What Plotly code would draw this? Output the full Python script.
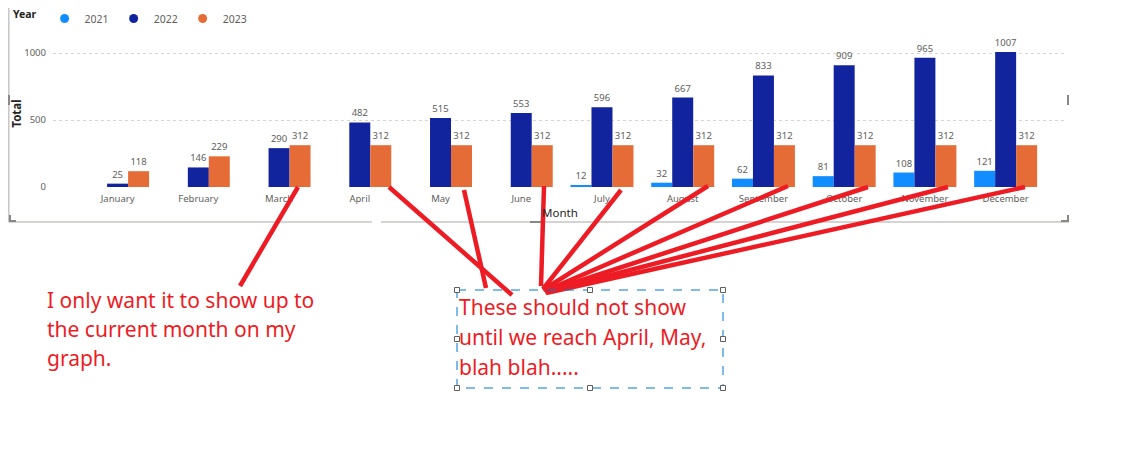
import plotly.graph_objects as go

# ---------------- data ----------------
months = ["January", "February", "March", "April", "May", "June", "July",
          "August", "September", "October", "November", "December"]
years = ["2021", "2022", "2023"]
total_2021 = [None, None, None, None, None, None, 12, 32, 62, 81, 108, 121]
total_2022 = [25, 146, 290, 482, 515, 553, 596, 667, 833, 909, 965, 1007]
total_2023 = [118, 229, 312, 312, 312, 312, 312, 312, 312, 312, 312, 312]
y_ticks = [0, 500, 1000]

note_left = ["I only want it to show up to", "the current month on my", "graph."]
note_right = ["These should not show", "until we reach April, May,", "blah blah....."]

colors = {"2021": "#118DFF", "2022": "#12239E", "2023": "#E66C37"}
series = {"2021": total_2021, "2022": total_2022, "2023": total_2023}

# ---------------- geometry helpers (pixel -> paper) ----------------
FW, FH = 1147, 450
OFF = 8  # default page margin of the browser
L, R, T, B = 53, 1067, 40, 187
W, H = R - L, B - T


def px(x):
    return (x - L) / W


def py(y):
    return (B - y) / H


FONT = "Noto Sans"
RED = "#ED1C24"

fig = go.Figure()

for yr in years:
    vals = series[yr]
    fig.add_trace(go.Bar(
        x=months, y=vals, name=yr, legendgroup=yr, showlegend=False,
        marker=dict(color=colors[yr], line=dict(width=0)),
        text=[("" if v is None else str(v)) for v in vals],
        textposition="outside", cliponaxis=False, constraintext="none",
        textfont=dict(family=FONT, size=9.5, color="#605E5C"),
        hoverinfo="x+y+name",
    ))
    # legend entry with round marker
    fig.add_trace(go.Scatter(
        x=[None], y=[None], mode="markers", name=yr, legendgroup=yr,
        marker=dict(symbol="circle", size=9, color=colors[yr]),
        hoverinfo="skip",
    ))

shapes = []

# visual frame (Power BI container)
frame = "#C8C6C4"
shapes.append(dict(type="line", xref="paper", yref="paper",
                   x0=px(8.8), y0=py(8), x1=px(8.8), y1=py(222),
                   line=dict(color=frame, width=1.5)))
shapes.append(dict(type="line", xref="paper", yref="paper",
                   x0=px(8.8), y0=py(222), x1=px(372), y1=py(222),
                   line=dict(color=frame, width=1.5)))
shapes.append(dict(type="line", xref="paper", yref="paper",
                   x0=px(381), y0=py(222), x1=px(1069), y1=py(222),
                   line=dict(color=frame, width=1.5)))
# handles on frame
handle = "#8A8886"
for (a, b, c, d) in [(9, 95, 9, 105), (530, 222, 545, 222), (1068, 95, 1068, 105),
                     (10, 215, 10, 222), (10, 221, 16, 221), (1068, 215, 1068, 222),
                     (1061, 221, 1068, 221)]:
    shapes.append(dict(type="line", xref="paper", yref="paper",
                       x0=px(a), y0=py(b), x1=px(c), y1=py(d),
                       line=dict(color=handle, width=2)))

# red arrows
arrows = [
    ((298, 187), (240, 286)),
    ((389, 187), (512, 295)),
    ((464, 190), (486, 288)),
    ((544, 186), (541, 286)),
    ((621, 190), (543, 289)),
    ((708, 186), (543, 290)),
    ((788, 186), (545, 291)),
    ((868, 187), (545, 292)),
    ((948, 187), (546, 292)),
    ((1025, 187), (546, 293)),
]
for (x0, y0), (x1, y1) in arrows:
    shapes.append(dict(type="line", xref="paper", yref="paper", layer="above",
                       x0=px(x0), y0=py(y0), x1=px(x1), y1=py(y1),
                       line=dict(color=RED, width=4.5)))

# dashed selection box of the text box
bx0, by0, bx1, by1 = 457, 290, 723, 388
shapes.append(dict(type="rect", xref="paper", yref="paper", layer="above",
                   x0=px(bx0), y0=py(by0), x1=px(bx1), y1=py(by1),
                   line=dict(color="#0078D4", width=1, dash="dash")))
mx, my = (bx0 + bx1) / 2, (by0 + by1) / 2
for hx, hy in [(bx0, by0), (mx, by0), (bx1, by0), (bx0, my), (bx1, my),
               (bx0, by1), (mx, by1), (bx1, by1)]:
    shapes.append(dict(type="rect", xref="paper", yref="paper", layer="above",
                       x0=px(hx - 2.5), y0=py(hy - 2.5), x1=px(hx + 2.5), y1=py(hy + 2.5),
                       fillcolor="white", line=dict(color="#605E5C", width=1)))

annotations = []
for i, line in enumerate(note_left):
    annotations.append(dict(text=line, xref="paper", yref="paper",
                            x=px(45), y=py(300 + i * 29), xanchor="left", yanchor="middle",
                            showarrow=False, font=dict(family=FONT, size=21, color=RED)))
for i, line in enumerate(note_right):
    annotations.append(dict(text=line, xref="paper", yref="paper",
                            x=px(457), y=py(307 + i * 30), xanchor="left", yanchor="middle",
                            showarrow=False, font=dict(family=FONT, size=21, color=RED)))

fig.update_layout(
    width=FW - OFF, height=FH - OFF,
    margin=dict(l=L - OFF, r=FW - R, t=T - OFF, b=FH - B, autoexpand=False),
    paper_bgcolor="white", plot_bgcolor="white",
    barmode="group", bargap=0.22, bargroupgap=0,
    font=dict(family=FONT, color="#605E5C"),
    showlegend=True,
    legend=dict(orientation="h", x=px(11), y=py(4), xanchor="left", yanchor="top",
                title=dict(text="<b>Year</b>", side="left",
                           font=dict(family=FONT, size=10.5, color="#252423")),
                font=dict(family=FONT, size=10.5, color="#605E5C"),
                itemwidth=30, bgcolor="rgba(0,0,0,0)", tracegroupgap=0),
    xaxis=dict(type="category", categoryorder="array", categoryarray=months,
               range=[-0.8, 11.76], showgrid=False, zeroline=False, showline=False,
               ticks="", ticklabelstandoff=4,
               tickfont=dict(family=FONT, size=9.5, color="#605E5C"),
               title=dict(text="Month", standoff=5,
                          font=dict(family=FONT, size=11.5, color="#252423"))),
    yaxis=dict(range=[0, 1000 * H / (B - 53)], tickvals=y_ticks,
               showgrid=True, gridcolor="#D6D5D4", griddash="dot", gridwidth=1,
               zeroline=False, showline=False, ticks="", ticklabelstandoff=6,
               tickfont=dict(family=FONT, size=9.5, color="#605E5C"),
               title=dict(text="<b>Total</b>", standoff=0,
                          font=dict(family=FONT, size=11.5, color="#252423"))),
    shapes=shapes, annotations=annotations,
)

fig.write_html("out.html")
